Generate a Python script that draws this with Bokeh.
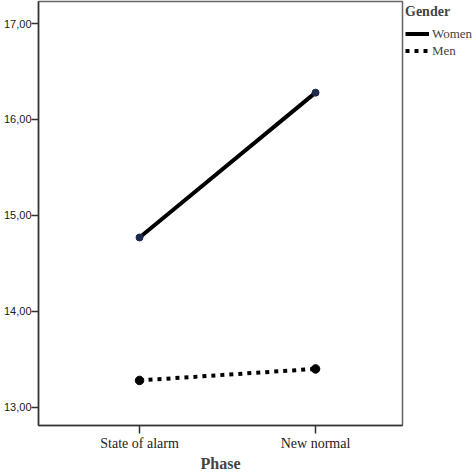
from bokeh.plotting import figure
from bokeh.models import Range1d, FixedTicker, Legend, LegendItem
from bokeh.embed import file_html
from bokeh.resources import INLINE

phases = ["State of alarm", "New normal"]
women = [14.77, 16.28]
men = [13.28, 13.40]
y_ticks = [13, 14, 15, 16, 17]
y_tick_labels = ["13,00", "14,00", "15,00", "16,00", "17,00"]

x_pos = list(range(len(phases)))

p = figure(width=474, height=474, frame_width=364, frame_height=424,
           output_backend="svg", toolbar_location=None,
           x_range=Range1d(-0.574, 1.494),
           y_range=Range1d(12.81, 17.23))
p.min_border_left = 0
p.min_border_right = 0
p.min_border_top = 1
p.min_border_bottom = 0
p.xgrid.visible = False
p.ygrid.visible = False
p.outline_line_color = "#666666"
p.outline_line_width = 1.5

wl = p.line(x_pos, women, line_color="black", line_width=4)
ml = p.line(x_pos, men, line_color="black", line_width=4, line_dash="4 5")
p.scatter(x_pos, women, size=7, fill_color="#1d2a4a", line_color="#1d2a4a")
p.scatter(x_pos, men, size=8.5, fill_color="black", line_color="black")

ya = p.yaxis[0]
ya.ticker = FixedTicker(ticks=y_ticks)
ya.major_label_overrides = {t: l for t, l in zip(y_ticks, y_tick_labels)}
ya.major_label_text_font = "Liberation Sans"
ya.major_label_text_font_size = "11px"
ya.major_label_text_color = "#222222"
ya.minor_tick_line_color = None
ya.major_tick_out = 7
ya.major_tick_in = 0
ya.major_label_standoff = 0
ya.axis_line_color = "#333333"
ya.axis_line_width = 1.5
ya.major_tick_line_color = "#333333"
ya.major_tick_line_width = 1.5

xa = p.xaxis[0]
xa.ticker = FixedTicker(ticks=x_pos)
xa.major_label_overrides = {i: name for i, name in zip(x_pos, phases)}
xa.minor_tick_line_color = None
xa.axis_label = "Phase"
xa.axis_label_text_font = "Liberation Serif"
xa.axis_label_text_font_style = "bold"
xa.axis_label_text_font_size = "16px"
xa.axis_label_standoff = 1
xa.major_label_text_font = "Liberation Serif"
xa.major_label_text_font_size = "14px"
xa.major_label_text_color = "#222222"
xa.major_tick_out = 8
xa.major_tick_in = 0
xa.major_label_standoff = 2
xa.axis_line_color = "#333333"
xa.axis_line_width = 1.5
xa.major_tick_line_color = "#333333"
xa.major_tick_line_width = 1.5

legend = Legend(items=[LegendItem(label="Women", renderers=[wl]),
                       LegendItem(label="Men", renderers=[ml])],
                location="top_left")
legend.title = "Gender"
legend.title_text_font = "Liberation Serif"
legend.title_text_font_style = "bold"
legend.title_text_font_size = "14px"
legend.title_standoff = 5
legend.label_text_font = "Liberation Serif"
legend.label_text_font_size = "13px"
legend.glyph_width = 24
legend.glyph_height = 17
legend.label_standoff = 3
legend.label_height = 17
legend.spacing = 0
legend.padding = 0
legend.margin = 3
legend.border_line_alpha = 0
legend.background_fill_alpha = 0
p.add_layout(legend, "right")

open("out.html", "w").write(file_html(p, INLINE))
